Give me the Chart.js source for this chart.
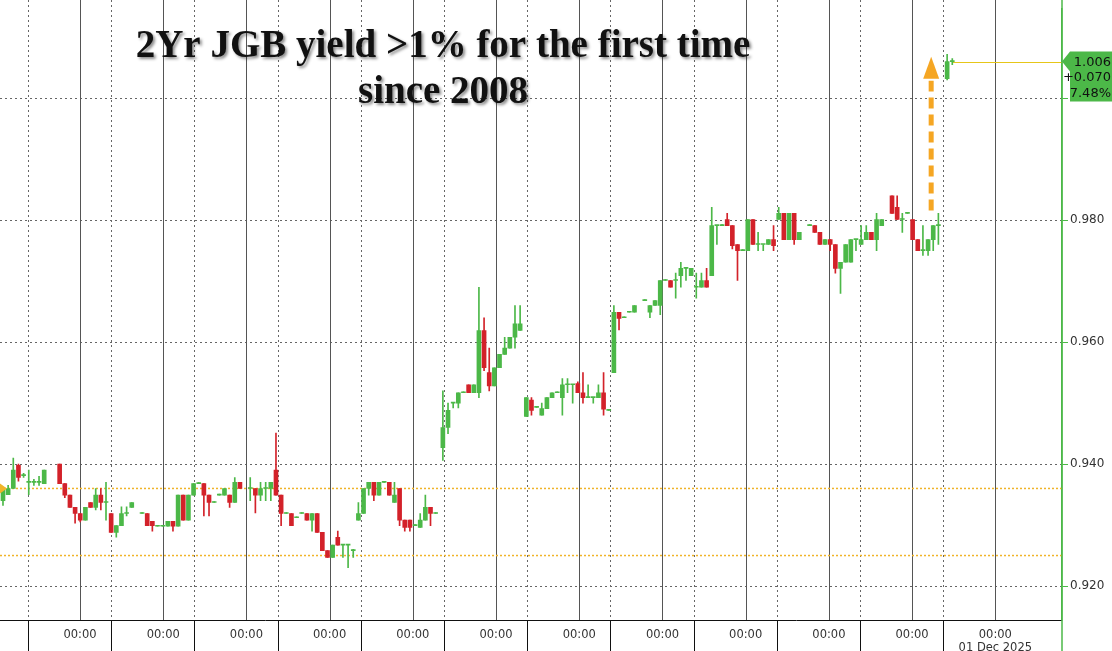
<!DOCTYPE html>
<html>
<head>
<meta charset="utf-8">
<script src="https://cdn.jsdelivr.net/npm/chart.js@4.4.1/dist/chart.umd.min.js"></script>
<style>
  html, body { margin: 0; padding: 0; background: #fff; }
  #wrap { width: 1112px; height: 651px; }
</style>
</head>
<body>
<div id="wrap"><canvas id="c" width="1112" height="651"></canvas></div>
<script>
// ── Data ──────────────────────────────────────────────────────────────────────
// candles as [open, high, low, close], null = no trade; x in bar slots
const segStart = [0, 85.4, 101.6, 118.6, 183.3];

const seg1 = [
  [.934,.9362,.9332,.936],[.935,.9365,.935,.936],[.936,.941,.936,.939],[.9398,.940,.9372,.9378],
  [.9381,.9385,.9378,.9381],[.937,.939,.935,.937],[.937,.9375,.9365,.937],[.937,.938,.9365,.937],
  [.9368,.939,.9368,.939],null,null,[.940,.940,.9368,.9368],[.9368,.9368,.9345,.9349],
  [.9349,.9349,.9329,.9329],[.9329,.9329,.9303,.9319],[.9319,.9319,.9305,.9308],[.9308,.9329,.9308,.9329],
  [.9337,.9337,.9329,.9329],[.9329,.936,.9325,.9349],[.9349,.936,.9325,.9337],[.9337,.937,.9308,.9337],
  [.9319,.9319,.9288,.9288],[.9288,.9299,.928,.9299],[.9299,.933,.9299,.9319],[.9319,.933,.9315,.9319],
  [.9329,.9337,.9329,.9337],null,[.9319,.9319,.9319,.9319],[.9319,.9319,.9299,.9299],
  [.9306,.9306,.929,.9299],[.9298,.9298,.9298,.9298],[.9298,.9298,.9298,.9298],[.9298,.9306,.9298,.9306],
  [.9306,.9306,.929,.9298],[.9298,.9349,.9298,.9349],[.9349,.9349,.9308,.9308],[.9308,.9349,.9308,.9349],
  [.9349,.9368,.9349,.9368],[.9368,.9368,.9368,.9368],[.9368,.9368,.9315,.9349],[.9349,.9349,.9315,.9337],
  [.9337,.9337,.9337,.9337],[.9349,.9349,.9349,.9349],[.9349,.936,.9349,.936],[.9349,.9349,.9329,.9337],
  [.9337,.9378,.9337,.937],[.937,.937,.936,.936],null,[.936,.9378,.934,.936],
  [.936,.936,.932,.9349],[.9349,.937,.934,.936],[.936,.937,.934,.936],[.936,.937,.934,.937],
  [.939,.9451,.9349,.9349],[.9349,.9349,.9299,.9319],[.9319,.9319,.9319,.9319],[.9319,.9319,.9299,.9299],
  [.9312,.9312,.9312,.9312],[.9319,.9319,.9319,.9319],[.9319,.9319,.9308,.9308],[.9308,.9319,.929,.9319],
  [.9319,.9319,.9288,.9288],[.9288,.9288,.9258,.9258],[.9258,.9258,.9247,.9247],[.9247,.9267,.9247,.9267],
  [.928,.929,.9267,.9267],[.9267,.9267,.9247,.9267],[.9267,.9267,.923,.9267],[.9258,.926,.9247,.9258],
  [.9308,.9337,.9308,.9319],[.9319,.936,.9319,.936],[.936,.937,.9349,.937],[.937,.937,.934,.9349],
  [.9349,.937,.9349,.937],[.937,.937,.937,.937],[.937,.937,.9349,.9349],[.9337,.937,.9337,.9349],
  [.936,.936,.9299,.9308],[.9308,.9308,.929,.9296],[.9308,.9308,.929,.9296],[.9299,.9299,.9299,.9299],
  [.9296,.9319,.9296,.9308],[.9308,.9349,.9308,.9329],[.9329,.9329,.9299,.9319],[.9319,.9319,.9319,.9319],
];

const seg2 = [
  [.9427,.952,.9406,.946],[.946,.950,.945,.9488],[.950,.950,.9492,.950],[.950,.9517,.9492,.9517],
  [.9517,.9517,.9517,.9517],[.953,.953,.9517,.9517],[.9517,.953,.9517,.953],[.9517,.969,.9509,.9619],
  [.9619,.964,.9553,.9558],[.955,.959,.952,.9528],[.9528,.9558,.9528,.9558],[.9558,.958,.9558,.958],
  [.958,.9608,.958,.959],[.959,.9608,.959,.9608],[.9608,.966,.959,.963],[.9619,.966,.9619,.963],
];

const seg3 = [
  [.9478,.9509,.9478,.9509],[.9505,.9509,.948,.9488],[.9493,.9493,.9493,.9493],[.948,.950,.948,.9491],
  [.9491,.9509,.9491,.9509],[.9509,.9517,.9509,.9517],[.9517,.9517,.9517,.9517],[.9509,.954,.948,.953],
  [.953,.954,.9517,.953],[.953,.953,.950,.953],[.9532,.9535,.9517,.9517],[.9517,.955,.950,.9509],
  [.9509,.953,.9509,.9509],[.9509,.9509,.950,.9509],[.9509,.953,.9509,.9517],[.9517,.955,.948,.949],
  [.9488,.9488,.9488,.9488],
];

const seg4 = [
  [.955,.966,.955,.9649],[.9649,.9649,.962,.9639],[.964,.964,.964,.964],[.9649,.9649,.9649,.9649],
  [.9649,.966,.9649,.966],null,[.9668,.9668,.9668,.9668],[.9649,.966,.964,.966],
  [.966,.9668,.966,.9668],[.966,.9701,.9645,.9701],[.9701,.9701,.9701,.9701],[.9701,.9701,.969,.969],
  [.9701,.9713,.9672,.9701],[.9709,.9731,.969,.9721],[.9721,.9721,.9701,.9721],[.9709,.9721,.9709,.9721],
  [.969,.9713,.9672,.969],[.969,.9713,.969,.9701],[.9701,.9721,.969,.969],[.9709,.9821,.9709,.9791],
  [.9791,.9791,.976,.9791],[.9791,.9791,.9791,.9791],[.9801,.9811,.9791,.9791],[.9791,.9791,.9753,.9758],
  [.976,.976,.9701,.975],[.975,.975,.975,.975],[.975,.9801,.975,.9801],[.9801,.9801,.976,.976],
  [.976,.978,.975,.976],[.976,.976,.975,.976],[.976,.9768,.976,.9768],[.9768,.9791,.975,.9758],
  [.9801,.9821,.9801,.9811],[.9811,.9811,.9768,.9768],[.9768,.9811,.9768,.9811],[.9811,.9811,.976,.9768],
  [.9768,.978,.9768,.978],null,[.9791,.9791,.9791,.9791],[.9791,.9791,.978,.978],
  [.978,.978,.976,.976],[.976,.9768,.976,.9768],[.9768,.9768,.975,.976],[.976,.976,.9713,.9721],
  [.9721,.9731,.968,.9731],[.9731,.976,.9731,.976],[.9731,.9768,.9731,.9768],[.9768,.9768,.975,.9768],
  [.976,.9791,.976,.9768],[.9768,.9791,.9768,.978],[.978,.978,.9768,.9768],[.9768,.9811,.975,.9801],
  [.9791,.9801,.9791,.9801],null,[.984,.984,.9811,.9811],[.9821,.984,.9801,.9801],
  [.9801,.9811,.978,.9801],[.9811,.9811,.9811,.9811],[.9801,.9801,.9768,.9768],[.9768,.9768,.975,.975],
  [.975,.9791,.9742,.975],[.975,.9768,.9742,.9768],[.9768,.9791,.975,.9791],[.9791,.9811,.976,.9791],
];

const seg5 = [[1.0032,1.0072,1.003,1.006],[1.006,1.0065,1.0055,1.006]];

const segments = [seg1, seg2, seg3, seg4, seg5];

const yTicks = [0.92, 0.94, 0.96, 0.98, 1.00];
const refLines = [0.936, 0.925];
const lastValue = 1.006, lastChange = '+0.070', lastPct = '7.48%';
const titleLines = ['2Yr JGB yield >1% for the first time', 'since 2008'];

// day grid, in bar slots
const DAY = 16.155, firstSession = 4.85, firstMidnight = 14.95, nDays = 12;
const midnightLabels = Array.from({ length: nDays }, (_, i) => i === 11 ? ['00:00', '01 Dec 2025'] : '00:00');

const GREEN = '#4cb848', RED = '#d3222a';

// ── Build ─────────────────────────────────────────────────────────────────────
const bodies = [], wicks = [];
segments.forEach((seg, s) => {
  seg.forEach((k, i) => {
    if (!k) return;
    const [o, h, l, c] = k;
    const x = segStart[s] + i;
    bodies.push({ x, y: [o, c], up: c >= o });
    wicks.push({ x, y: [l, h], up: c >= o });
  });
});
const colorOf = ctx => (ctx.raw && ctx.raw.up ? GREEN : RED);

const overlay = {
  id: 'overlay',
  beforeDatasetsDraw(chart) {
    const { ctx, chartArea: a, scales: { x, y } } = chart;
    ctx.save();
    ctx.lineWidth = 1;
    for (let i = 0; i < nDays; i++) {
      const xs = Math.round(x.getPixelForValue(firstSession + i * DAY)) + 0.5;
      const xm = Math.round(x.getPixelForValue(firstMidnight + i * DAY)) + 0.5;
      ctx.strokeStyle = '#666';
      ctx.setLineDash([2, 3]);
      ctx.beginPath(); ctx.moveTo(xs, 0); ctx.lineTo(xs, a.bottom); ctx.stroke();
      ctx.setLineDash([]);
      ctx.strokeStyle = '#111';
      ctx.beginPath(); ctx.moveTo(xs, a.bottom); ctx.lineTo(xs, chart.height); ctx.stroke();
      if (xm < a.right) {
        ctx.strokeStyle = '#555';
        ctx.beginPath(); ctx.moveTo(xm, 0); ctx.lineTo(xm, a.bottom); ctx.stroke();
      }
    }
    ctx.strokeStyle = '#111';
    ctx.beginPath(); ctx.moveTo(0, a.bottom + 0.5); ctx.lineTo(a.right, a.bottom + 0.5); ctx.stroke();
    // reference levels
    ctx.strokeStyle = '#f0b429';
    ctx.lineWidth = 1.5;
    ctx.setLineDash([2, 2]);
    refLines.forEach(v => {
      const py = y.getPixelForValue(v);
      ctx.beginPath(); ctx.moveTo(0, py); ctx.lineTo(a.right, py); ctx.stroke();
    });
    ctx.setLineDash([]);
    // last value line
    const ly = Math.round(y.getPixelForValue(lastValue)) + 0.5;
    ctx.strokeStyle = '#e6c619';
    ctx.lineWidth = 1.2;
    ctx.beginPath(); ctx.moveTo(x.getPixelForValue(segStart[4] + 1), ly); ctx.lineTo(a.right, ly); ctx.stroke();
    ctx.restore();
  },
  afterDatasetsDraw(chart) {
    const { ctx, chartArea: a, scales: { x, y } } = chart;
    ctx.save();
    // green axis line to the top edge
    ctx.strokeStyle = GREEN; ctx.lineWidth = 1.5;
    ctx.beginPath(); ctx.moveTo(a.right, 0); ctx.lineTo(a.right, chart.height); ctx.stroke();
    // left marker
    const my = y.getPixelForValue(0.936);
    ctx.fillStyle = '#f0b429';
    ctx.beginPath(); ctx.moveTo(0, my - 5); ctx.lineTo(7, my); ctx.lineTo(0, my + 5); ctx.fill();
    // dashed arrow
    const ax = x.getPixelForValue(180.2);
    const y0 = y.getPixelForValue(0.9816), y1 = y.getPixelForValue(1.0032), tip = y.getPixelForValue(1.0068);
    ctx.strokeStyle = '#f5a623';
    ctx.lineWidth = 5;
    ctx.setLineDash([11, 6]);
    ctx.beginPath(); ctx.moveTo(ax, y0); ctx.lineTo(ax, y1 + 2); ctx.stroke();
    ctx.setLineDash([]);
    ctx.fillStyle = '#f5a623';
    ctx.beginPath(); ctx.moveTo(ax - 8, y1); ctx.lineTo(ax, tip); ctx.lineTo(ax + 8, y1); ctx.fill();
    // last value tag
    const ly = y.getPixelForValue(lastValue);
    ctx.fillStyle = GREEN;
    ctx.beginPath();
    ctx.moveTo(a.right, ly);
    ctx.lineTo(a.right + 8, ly - 10);
    ctx.lineTo(chart.width, ly - 10);
    ctx.lineTo(chart.width, ly + 40);
    ctx.lineTo(a.right + 8, ly + 40);
    ctx.lineTo(a.right + 8, ly + 10);
    ctx.closePath(); ctx.fill();
    ctx.fillStyle = '#111';
    ctx.font = '13px "DejaVu Sans", sans-serif';
    ctx.textAlign = 'right';
    ctx.textBaseline = 'middle';
    ctx.fillText(lastValue.toFixed(3), chart.width - 1, ly + 1);
    ctx.fillText(lastChange, chart.width - 1, ly + 16);
    ctx.fillText(lastPct, chart.width - 1, ly + 32);
    // title
    ctx.textAlign = 'center';
    ctx.font = 'bold 39px "Liberation Serif", serif';
    ctx.shadowColor = 'rgba(0,0,0,0.45)';
    ctx.shadowOffsetX = 2; ctx.shadowOffsetY = 2; ctx.shadowBlur = 3;
    ctx.fillStyle = '#111';
    ctx.fillText(titleLines[0], 443, 47);
    ctx.fillText(titleLines[1], 443, 93);
    ctx.restore();
  }
};

new Chart(document.getElementById('c'), {
  type: 'bar',
  data: {
    datasets: [
      { data: wicks, grouped: false, barThickness: 1, minBarLength: 1, backgroundColor: colorOf },
      { data: bodies, grouped: false, barThickness: 4, minBarLength: 1, backgroundColor: colorOf },
    ]
  },
  options: {
    responsive: false, animation: false,
    layout: { padding: 0 },
    plugins: { legend: { display: false }, tooltip: { enabled: false } },
    scales: {
      x: {
        type: 'linear', offset: false, min: -0.58, max: 205.6,
        afterBuildTicks: s => { s.ticks = midnightLabels.map((_, i) => ({ value: firstMidnight + i * DAY })); },
        afterFit: s => { s.height = 31; },
        grid: { display: false },
        border: { display: false },
        ticks: {
          autoSkip: false, maxRotation: 0, padding: 0,
          color: '#333', font: { family: 'DejaVu Sans', size: 11.5, lineHeight: 1.15 },
          callback: (v, i) => midnightLabels[i],
        }
      },
      y: {
        position: 'right', min: 0.91443, max: 1.01459,
        afterBuildTicks: s => { s.ticks = yTicks.map(v => ({ value: v })); },
        afterFit: s => { s.width = 50; },
        grid: { color: '#666', tickColor: GREEN, tickLength: 6 },
        border: { color: GREEN, width: 1.5, dash: [2, 3] },
        ticks: {
          color: '#333', padding: 2, font: { family: 'DejaVu Sans', size: 12 },
          callback: v => v.toFixed(3),
        }
      }
    }
  },
  plugins: [overlay]
});
</script>
</body>
</html>
